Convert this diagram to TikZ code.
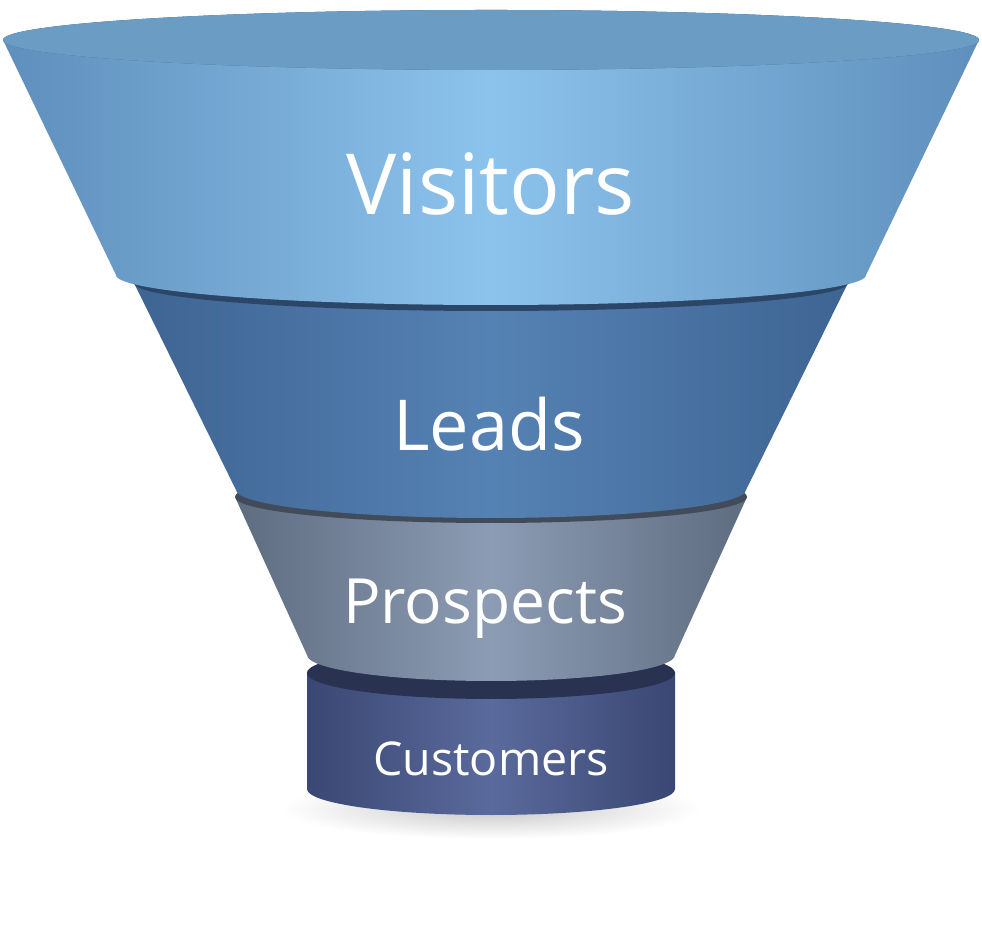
\documentclass[tikz,border=0pt]{standalone}
\usepackage{fontspec}
\setmainfont{Open Sans}
\definecolor{visitL}{HTML}{5F8FBC}
\definecolor{visitM}{HTML}{8CC3EC}
\definecolor{visitTop}{HTML}{6B9CC4}
\definecolor{leadL}{HTML}{3E6492}
\definecolor{leadM}{HTML}{5582B4}
\definecolor{prosL}{HTML}{5E6C80}
\definecolor{prosM}{HTML}{8C9CB4}
\definecolor{custL}{HTML}{3A4774}
\definecolor{custM}{HTML}{5A6A9C}
\tikzset{
  label/.style={text=white,inner sep=0pt},
}
% one ring of the funnel: top y, top half width, bottom y, bottom half width, y radius, colours
\newcommand{\funnelpart}[7]{%
  \shade[left color=#6,right color=#6,middle color=#7]
    (491-#2,#1) -- (491-#4,#3)
    arc[start angle=180,end angle=360,x radius=#4,y radius=#5]
    -- (491+#2,#1)
    arc[start angle=0,end angle=180,x radius=#2,y radius=#5] -- cycle;
  \fill[#6!70!black] (491,#1) ellipse[x radius=#2,y radius=#5];}
\begin{document}
\begin{tikzpicture}[x=0.02cm,y=0.02cm]
    \useasboundingbox (0,0) rectangle (982,949);
    % Shadow under the funnel
    \shade[inner color=black!22,outer color=white] (491,140) ellipse[x radius=210,y radius=30];
    % Rings from bottom to top
    \funnelpart{276}{184}{160}{184}{26}{custL}{custM}
    \funnelpart{452}{256}{294}{184}{26}{prosL}{prosM}
    \funnelpart{666}{357}{459}{255}{28}{leadL}{leadM}
    \funnelpart{909}{488}{674}{375}{30}{visitL}{visitM}
    % Top opening
    \fill[visitTop] (491,909) ellipse[x radius=488,y radius=30];
    % Labels
    \node[label,font=\fontsize{48}{54}\selectfont] (visitors) at (491,765) {Visitors};
    \node[label,font=\fontsize{40}{46}\selectfont] (leads) at (489,525) {Leads};
    \node[label,font=\fontsize{35.5}{40}\selectfont] (prospects) at (485,340) {Prospects};
    \node[label,font=\fontsize{26.5}{30}\selectfont] (customers) at (491,190) {Customers};
\end{tikzpicture}
\end{document}
